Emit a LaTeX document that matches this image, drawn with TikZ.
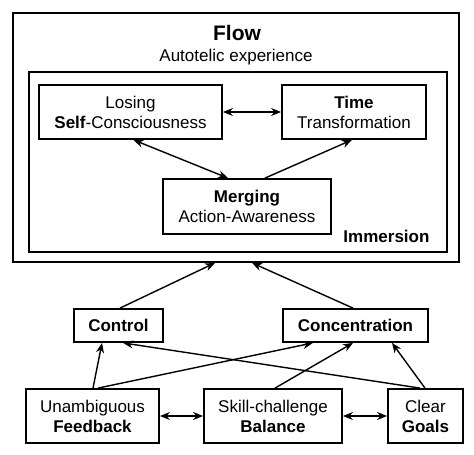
\documentclass[tikz,border=0pt]{standalone}
\usepackage{fontspec}
\setmainfont{Liberation Sans}
\usetikzlibrary{arrows.meta}

\begin{document}
\begin{tikzpicture}[x=1pt, y=-1pt,
    box/.style={draw, line width=1.8pt, align=center, inner sep=0pt,
      font=\fontsize{17}{20}\selectfont},
    frame/.style={draw, line width=1.8pt, inner sep=0pt},
    link/.style={line width=1.4pt, -{Stealth[length=10pt, width=8pt]}},
    both/.style={line width=1.4pt, {Stealth[length=10pt, width=8pt]}-{Stealth[length=10pt, width=8pt]}}]
    \useasboundingbox (0, 0) rectangle (474, 455);
    % frames
    \node[frame, minimum width=446pt, minimum height=249pt] (flow) at (236, 137.5) {};
    \node[frame, minimum width=418pt, minimum height=180pt] (immersion) at (238, 162) {};
    \node[font=\fontsize{21}{24}\selectfont\bfseries] (flowtitle) at (237, 33) {Flow};
    \node[font=\fontsize{17}{20}\selectfont] (autotelic) at (236, 57) {Autotelic experience};
    \node[anchor=east, font=\fontsize{17}{20}\selectfont\bfseries] (immlabel) at (433, 236) {Immersion};
    % inner boxes
    \node[box, minimum width=183pt, minimum height=54pt] (losing) at (130.5, 112) {Losing\\\textbf{Self}-Consciousness};
    \node[box, minimum width=144pt, minimum height=54pt] (time) at (354, 112) {\textbf{Time}\\Transformation};
    \node[box, minimum width=168pt, minimum height=55pt] (merging) at (247, 206.5) {\textbf{Merging}\\Action-Awareness};
    % middle row
    \node[box, minimum width=89pt, minimum height=33pt] (control) at (118.5, 325.5) {\textbf{Control}};
    \node[box, minimum width=145pt, minimum height=33pt] (concentration) at (355.5, 325.5) {\textbf{Concentration}};
    % bottom row
    \node[box, minimum width=133pt, minimum height=54pt] (feedback) at (92.5, 416) {Unambiguous\\\textbf{Feedback}};
    \node[box, minimum width=138pt, minimum height=54pt] (balance) at (273, 416) {Skill-challenge\\\textbf{Balance}};
    \node[box, minimum width=75pt, minimum height=54pt] (goals) at (425.5, 416) {Clear\\\textbf{Goals}};
    % connectors
    \draw[both] (losing) -- (time);
    \draw[both] ([xshift=3pt]losing.south) -- ([xshift=-19pt]merging.north);
    \draw[link] ([xshift=18pt]merging.north) -- ([xshift=-2pt]time.south);
    \draw[link] ([xshift=1.5pt]control.north) -- ([xshift=-21pt]flow.south);
    \draw[link] ([xshift=-2.5pt]concentration.north) -- ([xshift=16pt]flow.south);
    \draw[link] ([xshift=0.5pt]feedback.north) -- ([xshift=-16.5pt]control.south);
    \draw[link] ([xshift=5.5pt]feedback.north) -- ([xshift=-42.5pt]concentration.south);
    \draw[link] ([xshift=2pt]balance.north) -- ([xshift=-2.5pt]concentration.south);
    \draw[link] ([xshift=-0.5pt]goals.north) -- ([xshift=36.5pt]concentration.south);
    \draw[link] ([xshift=-5.5pt]goals.north) -- ([xshift=4.5pt]control.south);
    \draw[both] (feedback) -- (balance);
    \draw[both] (balance) -- (goals);
\end{tikzpicture}
\end{document}
